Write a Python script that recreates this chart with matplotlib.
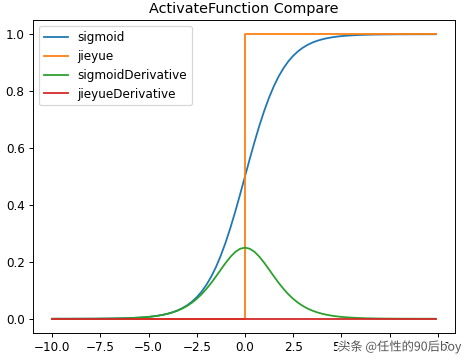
import matplotlib
matplotlib.use("Agg")
import matplotlib.pyplot as plt
import matplotlib.patheffects as pe

x = [-10.0, -9.75, -9.5, -9.25, -9.0, -8.75, -8.5, -8.25, -8.0, -7.75, -7.5, -7.25,
     -7.0, -6.75, -6.5, -6.25, -6.0, -5.75, -5.5, -5.25, -5.0, -4.75, -4.5, -4.25,
     -4.0, -3.75, -3.5, -3.25, -3.0, -2.75, -2.5, -2.25, -2.0, -1.75, -1.5, -1.25,
     -1.0, -0.75, -0.5, -0.25, 0.0, 0.25, 0.5, 0.75, 1.0, 1.25, 1.5, 1.75, 2.0,
     2.25, 2.5, 2.75, 3.0, 3.25, 3.5, 3.75, 4.0, 4.25, 4.5, 4.75, 5.0, 5.25, 5.5,
     5.75, 6.0, 6.25, 6.5, 6.75, 7.0, 7.25, 7.5, 7.75, 8.0, 8.25, 8.5, 8.75, 9.0,
     9.25, 9.5, 9.75, 9.9]

sigmoid = [0.0000, 0.0001, 0.0001, 0.0001, 0.0001, 0.0002, 0.0002, 0.0003, 0.0003,
           0.0004, 0.0006, 0.0007, 0.0009, 0.0012, 0.0015, 0.0019, 0.0025, 0.0032,
           0.0041, 0.0052, 0.0067, 0.0086, 0.0110, 0.0141, 0.0180, 0.0230, 0.0293,
           0.0373, 0.0474, 0.0601, 0.0759, 0.0953, 0.1192, 0.1480, 0.1824, 0.2227,
           0.2689, 0.3208, 0.3775, 0.4378, 0.5000, 0.5622, 0.6225, 0.6792, 0.7311,
           0.7773, 0.8176, 0.8520, 0.8808, 0.9047, 0.9241, 0.9399, 0.9526, 0.9627,
           0.9707, 0.9770, 0.9820, 0.9859, 0.9890, 0.9914, 0.9933, 0.9948, 0.9959,
           0.9968, 0.9975, 0.9981, 0.9985, 0.9988, 0.9991, 0.9993, 0.9994, 0.9996,
           0.9997, 0.9997, 0.9998, 0.9998, 0.9999, 0.9999, 0.9999, 0.9999, 1.0000]

sigmoid_deriv = [0.0000, 0.0001, 0.0001, 0.0001, 0.0001, 0.0002, 0.0002, 0.0003,
                 0.0003, 0.0004, 0.0006, 0.0007, 0.0009, 0.0012, 0.0015, 0.0019,
                 0.0025, 0.0032, 0.0041, 0.0052, 0.0066, 0.0085, 0.0109, 0.0139,
                 0.0177, 0.0225, 0.0285, 0.0359, 0.0452, 0.0565, 0.0701, 0.0862,
                 0.1050, 0.1261, 0.1491, 0.1731, 0.1966, 0.2179, 0.2350, 0.2461,
                 0.2500, 0.2461, 0.2350, 0.2179, 0.1966, 0.1731, 0.1491, 0.1261,
                 0.1050, 0.0862, 0.0701, 0.0565, 0.0452, 0.0359, 0.0285, 0.0225,
                 0.0177, 0.0139, 0.0109, 0.0085, 0.0066, 0.0052, 0.0041, 0.0032,
                 0.0025, 0.0019, 0.0015, 0.0012, 0.0009, 0.0007, 0.0006, 0.0004,
                 0.0003, 0.0003, 0.0002, 0.0002, 0.0001, 0.0001, 0.0001, 0.0001,
                 0.0000]

step_x = [-10, 0, 0, 9.9]
step_y = [0, 0, 1, 1]

step_deriv_x = [-10, 9.9]
step_deriv_y = [0, 0]

labels = ["sigmoid", "jieyue", "sigmoidDerivative", "jieyueDerivative"]
title = "ActivateFunction Compare"
watermark = "头条 @任性的90后boy"

dpi = 86
fig = plt.figure(figsize=(474 / dpi, 362 / dpi), dpi=dpi)
ax = fig.add_subplot(111)
fig.subplots_adjust(left=33 / 474, right=455 / 474, top=1 - 20 / 362, bottom=1 - 333 / 362)

ax.plot(x, sigmoid, color="#1f77b4", label=labels[0])
ax.plot(step_x, step_y, color="#ff7f0e", label=labels[1])
ax.plot(x, sigmoid_deriv, color="#2ca02c", label=labels[2])
ax.plot(step_deriv_x, step_deriv_y, color="#d62728", label=labels[3])

ax.set_title(title, fontsize=12)
ax.legend(loc="upper left", fontsize=10)

fig.text(338 / 474, 1 - 347 / 362, watermark, fontsize=10.3, color="#555555",
         family=["Noto Sans CJK SC", "DejaVu Sans"], va="center", ha="left",
         path_effects=[pe.withStroke(linewidth=2.5, foreground="white")])

fig.savefig("out.png", dpi=dpi)
